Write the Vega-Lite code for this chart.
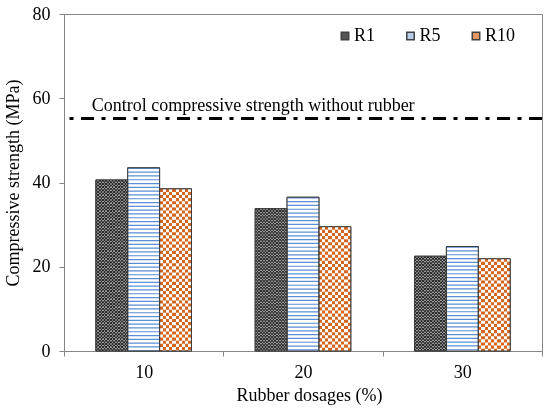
{
  "$schema": "https://vega.github.io/schema/vega-lite/v6.json",
  "width": 478,
  "height": 337,
  "autosize": "none",
  "padding": {"left": 64, "top": 14, "right": 8, "bottom": 58},
  "config": {
    "font": "Liberation Serif",
    "view": {"stroke": "#868686", "strokeWidth": 1},
    "axis": {
      "labelFont": "Liberation Serif",
      "labelFontSize": 18,
      "labelColor": "#000",
      "titleFont": "Liberation Serif",
      "titleFontSize": 18,
      "titleFontWeight": "normal",
      "titleColor": "#000",
      "domainColor": "#868686",
      "tickColor": "#868686",
      "tickSize": 5,
      "grid": false
    }
  },
  "datasets": {
    "control": [{"strength": 55.2, "note": "Control compressive strength without rubber"}]
  },
  "layer": [
    {
      "data": {
        "values": [
          {"dosage": "10", "series": "R1", "strength": 40.6},
          {"dosage": "10", "series": "R5", "strength": 43.5},
          {"dosage": "10", "series": "R10", "strength": 38.5},
          {"dosage": "20", "series": "R1", "strength": 33.8},
          {"dosage": "20", "series": "R5", "strength": 36.5},
          {"dosage": "20", "series": "R10", "strength": 29.5},
          {"dosage": "30", "series": "R1", "strength": 22.5},
          {"dosage": "30", "series": "R5", "strength": 24.8},
          {"dosage": "30", "series": "R10", "strength": 21.9}
        ]
      },
      "encoding": {
        "x": {
          "field": "dosage",
          "type": "nominal",
          "title": "Rubber dosages (%)",
          "scale": {"paddingInner": 0, "paddingOuter": 0},
          "axis": {"labelAngle": 0, "tickBand": "extent", "labelPadding": 7, "titlePadding": 5, "titleX": 245}
        },
        "xOffset": {
          "field": "series",
          "type": "nominal",
          "scale": {"domain": ["R1", "R5", "R10"], "paddingInner": 0, "paddingOuter": 1}
        },
        "y": {
          "field": "strength",
          "type": "quantitative",
          "title": "Compressive strength (MPa)",
          "scale": {"domain": [0, 80]},
          "axis": {"values": [0, 20, 40, 60, 80], "labelPadding": 9, "titlePadding": 10}
        }
      },
      "layer": [
        {
          "mark": {"type": "bar", "stroke": "#404040", "strokeWidth": 1},
          "encoding": {
            "color": {
              "field": "series",
              "type": "nominal",
              "scale": {"domain": ["R1", "R5", "R10"], "range": ["#555555", "#b7cdea", "#e49762"]},
              "legend": {
                "title": null,
                "orient": "none",
                "legendX": 272,
                "legendY": 13,
                "direction": "horizontal",
                "symbolType": "square",
                "symbolSize": 56,
                "columnPadding": 25.5,
                "labelOffset": 0,
                "labelFont": "Liberation Serif",
                "labelFontSize": 18,
                "labelColor": "#000"
              }
            }
          }
        },
        {
          "transform": [{"filter": "datum.series === 'R5'"}],
          "mark": {"type": "bar", "fill": "#ffffff"}
        },
        {
          "transform": [{"filter": "datum.series === 'R5'"}],
          "mark": {"type": "rule", "stroke": "#5b8fd4", "strokeWidth": 31.8, "strokeDash": [1.2, 2.6]},
          "encoding": {"y2": {"datum": 0}}
        },
        {
          "transform": [{"filter": "datum.series === 'R1'"}],
          "mark": {
            "type": "bar",
            "fill": {
              "gradient": "linear", "x1": 0, "y1": 0, "x2": 1, "y2": 0,
              "stops": [
                {"offset": 0, "color": "#fff"}, {"offset": 0.05, "color": "#fff"}, {"offset": 0.05, "color": "#000"}, {"offset": 0.1, "color": "#000"},
                {"offset": 0.1, "color": "#fff"}, {"offset": 0.15, "color": "#fff"}, {"offset": 0.15, "color": "#000"}, {"offset": 0.2, "color": "#000"},
                {"offset": 0.2, "color": "#fff"}, {"offset": 0.25, "color": "#fff"}, {"offset": 0.25, "color": "#000"}, {"offset": 0.3, "color": "#000"},
                {"offset": 0.3, "color": "#fff"}, {"offset": 0.35, "color": "#fff"}, {"offset": 0.35, "color": "#000"}, {"offset": 0.4, "color": "#000"},
                {"offset": 0.4, "color": "#fff"}, {"offset": 0.45, "color": "#fff"}, {"offset": 0.45, "color": "#000"}, {"offset": 0.5, "color": "#000"},
                {"offset": 0.5, "color": "#fff"}, {"offset": 0.55, "color": "#fff"}, {"offset": 0.55, "color": "#000"}, {"offset": 0.6, "color": "#000"},
                {"offset": 0.6, "color": "#fff"}, {"offset": 0.65, "color": "#fff"}, {"offset": 0.65, "color": "#000"}, {"offset": 0.7, "color": "#000"},
                {"offset": 0.7, "color": "#fff"}, {"offset": 0.75, "color": "#fff"}, {"offset": 0.75, "color": "#000"}, {"offset": 0.8, "color": "#000"},
                {"offset": 0.8, "color": "#fff"}, {"offset": 0.85, "color": "#fff"}, {"offset": 0.85, "color": "#000"}, {"offset": 0.9, "color": "#000"},
                {"offset": 0.9, "color": "#fff"}, {"offset": 0.95, "color": "#fff"}, {"offset": 0.95, "color": "#000"}, {"offset": 1, "color": "#000"}
              ]
            }
          }
        },
        {
          "transform": [{"filter": "datum.series === 'R1'"}],
          "mark": {"type": "rule", "stroke": "#ffffff", "strokeWidth": 31.8, "strokeDash": [1.6, 1.6], "blend": "difference"},
          "encoding": {"y2": {"datum": 0}}
        },
        {
          "transform": [{"filter": "datum.series === 'R1'"}],
          "mark": {"type": "bar", "fill": "#999999", "blend": "multiply"}
        },
        {
          "transform": [{"filter": "datum.series === 'R1'"}],
          "mark": {"type": "bar", "fill": "#2e2e2e", "blend": "lighten"}
        },
        {
          "transform": [{"filter": "datum.series === 'R10'"}],
          "mark": {
            "type": "bar",
            "fill": {
              "gradient": "linear", "x1": 0, "y1": 0, "x2": 1, "y2": 0,
              "stops": [
                {"offset": 0, "color": "#fff"}, {"offset": 0.1, "color": "#fff"}, {"offset": 0.1, "color": "#000"}, {"offset": 0.2, "color": "#000"},
                {"offset": 0.2, "color": "#fff"}, {"offset": 0.3, "color": "#fff"}, {"offset": 0.3, "color": "#000"}, {"offset": 0.4, "color": "#000"},
                {"offset": 0.4, "color": "#fff"}, {"offset": 0.5, "color": "#fff"}, {"offset": 0.5, "color": "#000"}, {"offset": 0.6, "color": "#000"},
                {"offset": 0.6, "color": "#fff"}, {"offset": 0.7, "color": "#fff"}, {"offset": 0.7, "color": "#000"}, {"offset": 0.8, "color": "#000"},
                {"offset": 0.8, "color": "#fff"}, {"offset": 0.9, "color": "#fff"}, {"offset": 0.9, "color": "#000"}, {"offset": 1, "color": "#000"}
              ]
            }
          }
        },
        {
          "transform": [{"filter": "datum.series === 'R10'"}],
          "mark": {"type": "rule", "stroke": "#ffffff", "strokeWidth": 31.8, "strokeDash": [3.1, 3.1], "blend": "difference"},
          "encoding": {"y2": {"datum": 0}}
        },
        {
          "transform": [{"filter": "datum.series === 'R10'"}],
          "mark": {"type": "bar", "fill": "#d4661f", "blend": "screen"}
        },
        {
          "mark": {"type": "bar", "fill": "transparent", "stroke": "#3c3c3c", "strokeWidth": 1}
        }
      ]
    },
    {
      "data": {"name": "control"},
      "mark": {"type": "rule", "stroke": "#000000", "strokeWidth": 3, "strokeDash": [13, 7.5, 4, 7.5]},
      "encoding": {"y": {"field": "strength", "type": "quantitative"}}
    },
    {
      "data": {"name": "control"},
      "mark": {"type": "text", "align": "left", "baseline": "alphabetic", "dx": -52, "dy": -7, "font": "Liberation Serif", "fontSize": 18, "color": "#000000"},
      "encoding": {
        "x": {"datum": "10", "type": "nominal"},
        "y": {"field": "strength", "type": "quantitative"},
        "text": {"field": "note"}
      }
    }
  ]
}
